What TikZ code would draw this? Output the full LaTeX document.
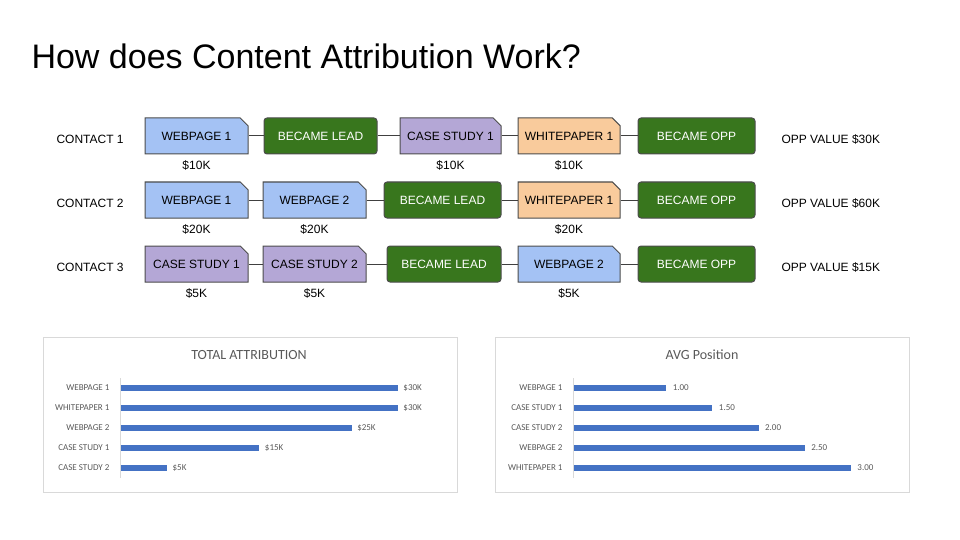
\documentclass[tikz,border=0pt]{standalone}
\usepackage{fontspec}
\setmainfont{Liberation Sans}
\setsansfont{Carlito}
\usetikzlibrary{shapes.misc,positioning}
\definecolor{pageblue}{HTML}{A4C2F4}
\definecolor{leadgreen}{HTML}{38761D}
\definecolor{casepurple}{HTML}{B4A7D6}
\definecolor{paperorange}{HTML}{F9CB9C}
\definecolor{barblue}{HTML}{4472C4}
\definecolor{framegray}{HTML}{D9D9D9}
\definecolor{labelgray}{HTML}{595959}

\begin{document}
\begin{tikzpicture}[
    x=1pt,y=-1pt,
    cont/.style={
      draw=black!70,
      line width=1pt,
      fill=#1,
      chamfered rectangle,
      chamfered rectangle corners=north east,
      chamfered rectangle xsep=5pt,
      minimum width=103pt,
      minimum height=36pt,
      inner sep=0pt,
      font=\fontsize{12}{14}\selectfont
    },
    stage/.style={
      draw=black!70,
      line width=1pt,
      fill=leadgreen,
      text=white,
      rounded corners=3pt,
      minimum height=36pt,
      inner sep=0pt,
      font=\fontsize{12}{14}\selectfont
    },
    val/.style={below=3pt,font=\fontsize{12}{14}\selectfont},
    rowlab/.style={anchor=west,font=\fontsize{12}{14}\selectfont},
    link/.style={draw=black!75,line width=1pt},
    chart/.style={draw=framegray,minimum width=414pt,minimum height=155pt,anchor=north west},
    ctitle/.style={text=labelgray,font=\sffamily\fontsize{14}{16}\selectfont},
    blab/.style={anchor=east,text=labelgray,font=\sffamily\fontsize{9}{10}\selectfont},
    bval/.style={anchor=west,text=labelgray,font=\sffamily\fontsize{9}{10}\selectfont},
    bar/.style={fill=barblue,draw=none}
    ]
    \useasboundingbox (0,0) rectangle (960,540);
    \node[anchor=west,font=\fontsize{34}{40}\selectfont] (title) at (28,56) {How does Content Attribution Work?};

    % row 1
    \node[rowlab] (c1) at (53,139) {CONTACT 1};
    \node[cont=pageblue] (r1a) at (196.5,136) {WEBPAGE 1};
    \node[stage,minimum width=113pt] (r1b) at (320.5,136) {BECAME LEAD};
    \node[cont=casepurple,minimum width=101pt] (r1c) at (450.5,136) {CASE STUDY 1};
    \node[cont=paperorange,minimum width=102pt] (r1d) at (569,136) {WHITEPAPER 1};
    \node[stage,minimum width=117pt] (r1e) at (696.5,136) {BECAME OPP};
    \node[rowlab] (o1) at (778,139) {OPP VALUE \$30K};
    \node[val] at (r1a.south) {\$10K};
    \node[val] at (r1c.south) {\$10K};
    \node[val] at (r1d.south) {\$10K};

    % row 2
    \node[rowlab] (c2) at (53,203) {CONTACT 2};
    \node[cont=pageblue] (r2a) at (196.5,200) {WEBPAGE 1};
    \node[cont=pageblue] (r2b) at (314.5,200) {WEBPAGE 2};
    \node[stage,minimum width=117pt] (r2c) at (442.5,200) {BECAME LEAD};
    \node[cont=paperorange,minimum width=102pt] (r2d) at (569,200) {WHITEPAPER 1};
    \node[stage,minimum width=117pt] (r2e) at (696.5,200) {BECAME OPP};
    \node[rowlab] (o2) at (778,203) {OPP VALUE \$60K};
    \node[val] at (r2a.south) {\$20K};
    \node[val] at (r2b.south) {\$20K};
    \node[val] at (r2d.south) {\$20K};

    % row 3
    \node[rowlab] (c3) at (53,267) {CONTACT 3};
    \node[cont=casepurple] (r3a) at (196.5,264) {CASE STUDY 1};
    \node[cont=casepurple] (r3b) at (314.5,264) {CASE STUDY 2};
    \node[stage,minimum width=114pt] (r3c) at (444,264) {BECAME LEAD};
    \node[cont=pageblue,minimum width=102pt] (r3d) at (569,264) {WEBPAGE 2};
    \node[stage,minimum width=117pt] (r3e) at (696.5,264) {BECAME OPP};
    \node[rowlab] (o3) at (778,267) {OPP VALUE \$15K};
    \node[val] at (r3a.south) {\$5K};
    \node[val] at (r3b.south) {\$5K};
    \node[val] at (r3d.south) {\$5K};

    \foreach \r in {1,2,3}{
      \draw[link] (r\r a.east) -- (r\r b.west);
      \draw[link] (r\r b.east) -- (r\r c.west);
      \draw[link] (r\r c.east) -- (r\r d.west);
      \draw[link] (r\r d.east) -- (r\r e.west);
    }

    % charts
    \node[chart] (totchart) at (43,337) {};
    \node[ctitle] at (249,355) {TOTAL ATTRIBUTION};
    \draw[framegray] (120,378) -- (120,478);
    \foreach \name/\v/\y in {WEBPAGE 1/30/388,WHITEPAPER 1/30/408,WEBPAGE 2/25/428,CASE STUDY 1/15/448,CASE STUDY 2/5/468}{
      \node[blab] at (113,\y) {\name};
      \fill[bar] (121,\y-3) rectangle ({121+9.23*\v},\y+3);
      \node[bval] at ({123+9.23*\v},\y) {\$\v K};
    }

    \node[chart] (avgchart) at (495,337) {};
    \node[ctitle] at (702,355) {AVG Position};
    \draw[framegray] (573,378) -- (573,478);
    \foreach \name/\v/\y in {WEBPAGE 1/1.00/388,CASE STUDY 1/1.50/408,CASE STUDY 2/2.00/428,WEBPAGE 2/2.50/448,WHITEPAPER 1/3.00/468}{
      \node[blab] at (566,\y) {\name};
      \fill[bar] (574,\y-3) rectangle ({574+92.3*\v},\y+3);
      \node[bval] at ({577+92.3*\v},\y) {\v};
    }
\end{tikzpicture}
\end{document}
